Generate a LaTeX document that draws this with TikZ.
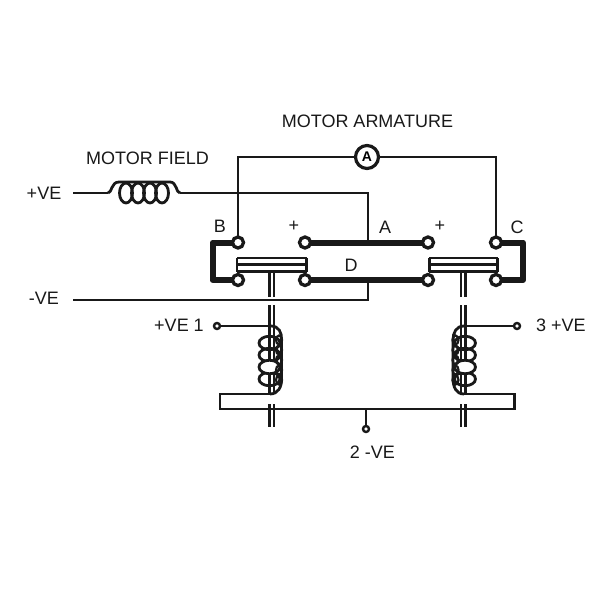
\documentclass[tikz,border=0pt]{standalone}
\usepackage{fontspec}
\setmainfont{Liberation Sans}
\usetikzlibrary{shapes.geometric}
\tikzset{
  wire/.style={draw=black!90,line width=2.4pt,line cap=butt},
  bus/.style={draw=black!90,line width=6pt,line join=round,line cap=butt},
  coilline/.style={draw=black!90,line width=2.8pt},
  term/.style={circle,draw=black!90,fill=white,line width=3.3pt,minimum size=11pt,inner sep=0pt},
  smallterm/.style={circle,draw=black!90,fill=white,line width=2.4pt,minimum size=6pt,inner sep=0pt},
  meter/.style={circle,draw=black!90,fill=white,line width=3.2pt,minimum size=23pt,inner sep=0pt,font=\fontsize{14}{14}\selectfont\bfseries},
  lbl/.style={inner sep=0pt,font=\fontsize{18}{19}\selectfont,text=black!90},
  floop/.style={ellipse,draw=black!90,line width=2.8pt,minimum width=13pt,minimum height=20pt,inner sep=0pt},
  hloop/.style={ellipse,draw=black!90,line width=2.8pt,minimum width=21pt,minimum height=13.5pt,inner sep=0pt},
  sloop/.style={ellipse,draw=black!90,line width=2.2pt,minimum width=6pt,minimum height=9pt,inner sep=0pt},
}
\begin{document}
\begin{tikzpicture}[x=1pt,y=-1pt]
\path[use as bounding box,fill=white] (0,0) rectangle (600,600);

% free ends
\coordinate (plusend) at (73,193);
\coordinate (minusend) at (73,300);
\coordinate (fieldL) at (108,193);
\coordinate (fieldR) at (180,193);
\coordinate (cornerF) at (368,193);
\coordinate (dropA) at (368,242.5);
\coordinate (cornerM) at (368,300);
\coordinate (dropD) at (368,280);
\coordinate (armL) at (238,157);
\coordinate (armR) at (496,157);

% wires
\draw[wire] (plusend) -- (fieldL);
\draw[wire] (fieldR) -- (cornerF) -- (dropA);
\draw[wire] (minusend) -- (cornerM) -- (dropD);
\draw[wire] (367,157) -- (armL) -- (238,242.5);
\draw[wire] (367,157) -- (armR) -- (496,242.5);

% heavy bars
\draw[bus] (305,242.5) -- (428,242.5);
\draw[bus] (305,280) -- (428,280);
\draw[bus] (238,242.5) -- (212.5,242.5) -- (212.5,280) -- (238,280);
\draw[bus] (496,242.5) -- (523,242.5) -- (523,280) -- (496,280);

% terminals
\node[term] (tB) at (238,242.5) {};
\node[term] (tP) at (305,242.5) {};
\node[term] (tQ) at (428,242.5) {};
\node[term] (tC) at (496,242.5) {};
\node[term] (bB) at (238,280) {};
\node[term] (bP) at (305,280) {};
\node[term] (bQ) at (428,280) {};
\node[term] (bC) at (496,280) {};
\node[meter] (amm) at (367,157) {A};

% field coil
\draw[coilline] (fieldL) .. controls (112,193) and (111,182) .. (119,182) -- (170,182) .. controls (177,182) and (176,193) .. (fieldR);
\foreach \n/\x in {f1/126,f2/138,f3/150,f4/162}{\node[floop] (\n) at (\x,193) {};}

% contact plates
\draw[wire] (237,258) -- (307,258) (237,271.5) -- (307,271.5) (237,258) -- (237,272) (306.5,258) -- (306.5,272);
\draw[draw=black!90,line width=3.4pt] (237,264.5) -- (307,264.5);
\draw[wire] (429,258) -- (498,258) (429,271.5) -- (498,271.5) (429.5,258) -- (429.5,272) (497.5,258) -- (497.5,272);
\draw[draw=black!90,line width=3.4pt] (429,264.5) -- (498,264.5);

% plungers
\draw[wire] (269.5,272) -- (269.5,297) (274,272) -- (274,297);
\draw[wire] (269.5,305) -- (269.5,393) (274,305) -- (274,393);
\draw[wire] (269.5,404) -- (269.5,427) (274,404) -- (274,427);
\draw[wire] (461,272) -- (461,297) (465.5,272) -- (465.5,297);
\draw[wire] (461,305) -- (461,393) (465.5,305) -- (465.5,393);
\draw[wire] (461,404) -- (461,427) (465.5,404) -- (465.5,427);

% small terminals
\node[smallterm] (tL) at (217,326) {};
\node[smallterm] (tR) at (517,326) {};
\node[smallterm] (tN) at (366,429) {};

% coil leads and yoke
\draw[wire] (tL) -- (272,326);
\draw[wire] (tR) -- (463,326);
\draw[wire] (272,394) -- (220,394) -- (220,409) -- (514.5,409) -- (514.5,394) -- (463,394);
\draw[wire] (tN) -- (366,409);

% solenoid coils
\foreach \n/\y in {a/343,b/355,d/379}{
  \node[hloop] (l\n) at (269.5,\y) {};
  \node[hloop] (r\n) at (465,\y) {};
}
\node[hloop,fill=white] (lc) at (269.5,367) {};
\node[hloop,fill=white] (rc) at (465,367) {};
\foreach \n/\y in {a/340,b/350,c/360,d/370,e/380}{
  \node[sloop] (ls\n) at (279,\y) {};
  \node[sloop] (rs\n) at (455.5,\y) {};
}
\draw[coilline] (271,326) .. controls (279,326) and (282,333) .. (281.5,340) -- (281.5,378) .. controls (282,387) and (278,394) .. (270,394);
\draw[coilline] (464,326) .. controls (456,326) and (453,333) .. (453,340) -- (453,378) .. controls (453,387) and (456,394) .. (464,394);

% labels
\node[lbl] (mA) at (367.5,121.5) {MOTOR ARMATURE};
\node[lbl] (mF) at (147.5,158.5) {MOTOR FIELD};
\node[lbl] (pv) at (44,193.5) {+VE};
\node[lbl] (mv) at (44,298.5) {-VE};
\node[lbl] (lB) at (220,226.5) {B};
\node[lbl] (lP1) at (294,226) {+};
\node[lbl] (lA) at (385,227.5) {A};
\node[lbl] (lP2) at (440,226) {+};
\node[lbl] (lC) at (517,227.5) {C};
\node[lbl] (lD) at (351,265.5) {D};
\node[lbl] (l1) at (179,325.5) {+VE 1};
\node[lbl] (l3) at (561,325.5) {3 +VE};
\node[lbl] (l2) at (372.5,452.5) {2 -VE};
\end{tikzpicture}
\end{document}
